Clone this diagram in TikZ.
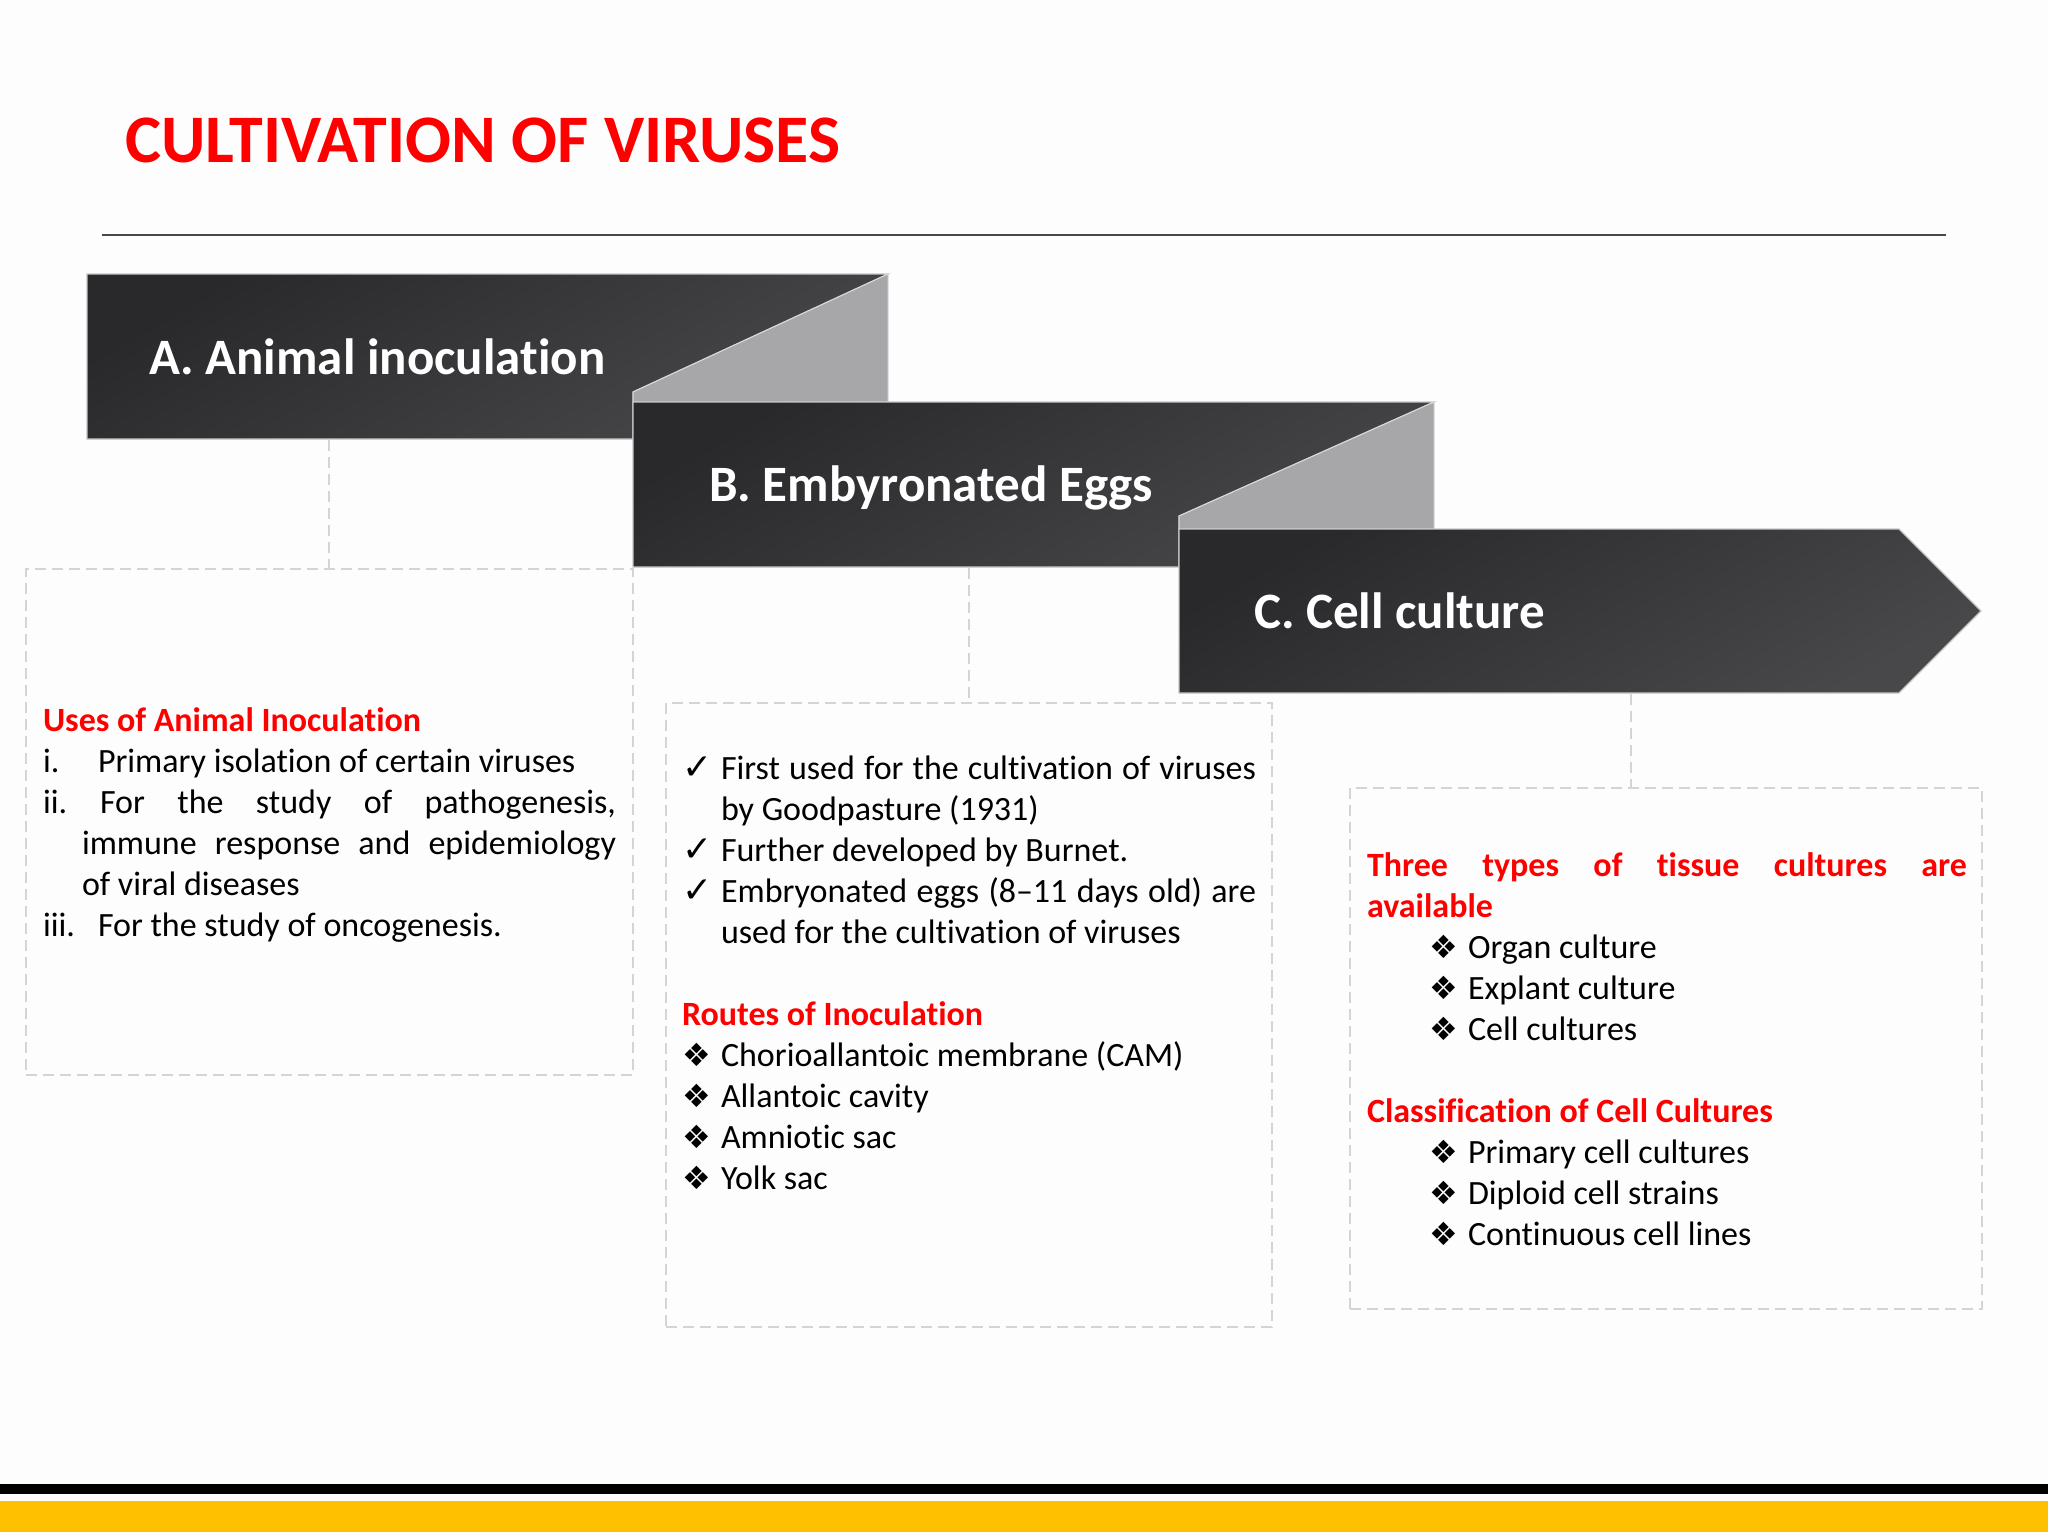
\documentclass[tikz,border=0pt]{standalone}
\usepackage{fontspec}
\setmainfont{Carlito}[Ligatures=NoCommon]
\newfontfamily\symfont{DejaVu Sans}
\definecolor{bgc}{HTML}{FDFDFD}
\definecolor{titlered}{HTML}{FF0000}
\definecolor{hdrtop}{HTML}{29282A}
\definecolor{hdrbot}{HTML}{48474A}
\definecolor{foldc}{HTML}{A7A6A9}
\definecolor{dashgray}{HTML}{D4D4D6}
\definecolor{goldc}{HTML}{FFC000}
\tikzset{
  body/.style={anchor=base west, inner sep=0pt, outer sep=0pt, font=\fontsize{34}{40.8}\selectfont, text=black},
  redhead/.style={anchor=base west, inner sep=0pt, outer sep=0pt, font=\fontsize{34}{40.8}\selectfont\bfseries, text=titlered},
  hdrtext/.style={anchor=base west, inner sep=0pt, font=\fontsize{51}{60}\selectfont\bfseries, text=white},
  hdrshape/.style={top color=hdrtop, bottom color=hdrbot, shading angle=30, draw=black!22, line width=1.2pt},
  foldshape/.style={fill=foldc, draw=black!15, line width=1pt},
  dbox/.style={draw=dashgray, line width=2.5pt, dash pattern=on 11pt off 6pt, inner sep=0pt, outer sep=0pt, anchor=north west},
  dconn/.style={draw=dashgray, line width=2.5pt, dash pattern=on 11pt off 6pt},
  chk/.style={anchor=base west, inner sep=0pt, font=\symfont\fontsize{36}{40}\selectfont},
  dia/.style={anchor=base west, inner sep=0pt, font=\symfont\fontsize{32}{36}\selectfont},
}
\begin{document}
\begin{tikzpicture}[x=1pt,y=-1pt]
\useasboundingbox (0,0) rectangle (2048,1536);
\fill[bgc] (0,0) rectangle (2048,1536);

% title and rule
\node[anchor=base west, inner sep=0pt, font=\fontsize{68}{80}\selectfont\bfseries, text=titlered] (title) at (125,163) {CULTIVATION OF VIRUSES};
\draw[line width=2pt, black!72] (102,235) -- (1946,235);

% header shapes
\path[hdrshape] (87,274) -- (888,274) -- (633,392) -- (633,439) -- (87,439) -- cycle;
\path[foldshape] (888,274) -- (888,402) -- (633,402) -- (633,392) -- cycle;
\path[hdrshape] (633,402) -- (1434,402) -- (1179,516) -- (1179,567) -- (633,567) -- cycle;
\path[foldshape] (1434,402) -- (1434,529) -- (1179,529) -- (1179,516) -- cycle;
\path[hdrshape] (1179,529) -- (1899,529) -- (1981,611) -- (1899,693) -- (1179,693) -- cycle;

\node[hdrtext] (tA) at (149,374) {A. Animal inoculation};
\node[hdrtext] (tB) at (709,501) {B. Embyronated Eggs};
\node[hdrtext] (tC) at (1254,628) {C. Cell culture};

% dashed boxes and connectors
\node[dbox, minimum width=607pt, minimum height=506pt] (boxA) at (26,569) {};
\node[dbox, minimum width=606pt, minimum height=624pt] (boxB) at (666,703) {};
\node[dbox, minimum width=632pt, minimum height=521pt] (boxC) at (1350,788) {};
\coordinate (cA) at (329,440);
\coordinate (cB) at (969,568);
\coordinate (cC) at (1631,694);
\draw[dconn] (cA) -- (cA |- boxA.north);
\draw[dconn] (cB) -- (cB |- boxB.north);
\draw[dconn] (cC) -- (cC |- boxC.north);

% box A text
\node[redhead] (a0) at (43,731) {Uses of Animal Inoculation};
\node[body] (a1n) at (43,772) {i.};
\node[body] (a1) at (98,772) {Primary isolation of certain viruses};
\node[body] (a2n) at (43,813) {ii.};
\node[body] (a2) at (100,813) {\makebox[516pt][s]{For the study of pathogenesis,}};
\node[body] (a3) at (82,854) {\makebox[534pt][s]{immune response and epidemiology}};
\node[body] (a4) at (82,895) {of viral diseases};
\node[body] (a5n) at (43,936) {iii.};
\node[body] (a5) at (98,936) {For the study of oncogenesis.};

% box B text
\node[chk] (b1c) at (682,779) {✓};
\node[body] (b1) at (721,779) {\makebox[535pt][s]{First used for the cultivation of viruses}};
\node[body] (b2) at (721,820) {by Goodpasture (1931)};
\node[chk] (b3c) at (682,861) {✓};
\node[body] (b3) at (721,861) {Further developed by Burnet.};
\node[chk] (b4c) at (682,902) {✓};
\node[body] (b4) at (721,902) {\makebox[535pt][s]{Embryonated eggs (8–11 days old) are}};
\node[body] (b5) at (721,943) {used for the cultivation of viruses};
\node[redhead] (b6) at (682,1025) {Routes of Inoculation};
\node[dia] (b7d) at (682,1066) {❖};
\node[body] (b7) at (721,1066) {Chorioallantoic membrane (CAM)};
\node[dia] (b8d) at (682,1107) {❖};
\node[body] (b8) at (721,1107) {Allantoic cavity};
\node[dia] (b9d) at (682,1148) {❖};
\node[body] (b9) at (721,1148) {Amniotic sac};
\node[dia] (b10d) at (682,1189) {❖};
\node[body] (b10) at (721,1189) {Yolk sac};

% box C text
\node[redhead] (c1) at (1367,876) {\makebox[600pt][s]{Three types of tissue cultures are}};
\node[redhead] (c2) at (1367,917) {available};
\node[dia] (c3d) at (1429,958) {❖};
\node[body] (c3) at (1468,958) {Organ culture};
\node[dia] (c4d) at (1429,999) {❖};
\node[body] (c4) at (1468,999) {Explant culture};
\node[dia] (c5d) at (1429,1040) {❖};
\node[body] (c5) at (1468,1040) {Cell cultures};
\node[redhead] (c6) at (1367,1122) {Classification of Cell Cultures};
\node[dia] (c7d) at (1429,1163) {❖};
\node[body] (c7) at (1468,1163) {Primary cell cultures};
\node[dia] (c8d) at (1429,1204) {❖};
\node[body] (c8) at (1468,1204) {Diploid cell strains};
\node[dia] (c9d) at (1429,1245) {❖};
\node[body] (c9) at (1468,1245) {Continuous cell lines};

% bottom bars
\fill[black] (0,1484) rectangle (2048,1494);
\fill[goldc] (0,1501) rectangle (2048,1532);
\end{tikzpicture}
\end{document}
